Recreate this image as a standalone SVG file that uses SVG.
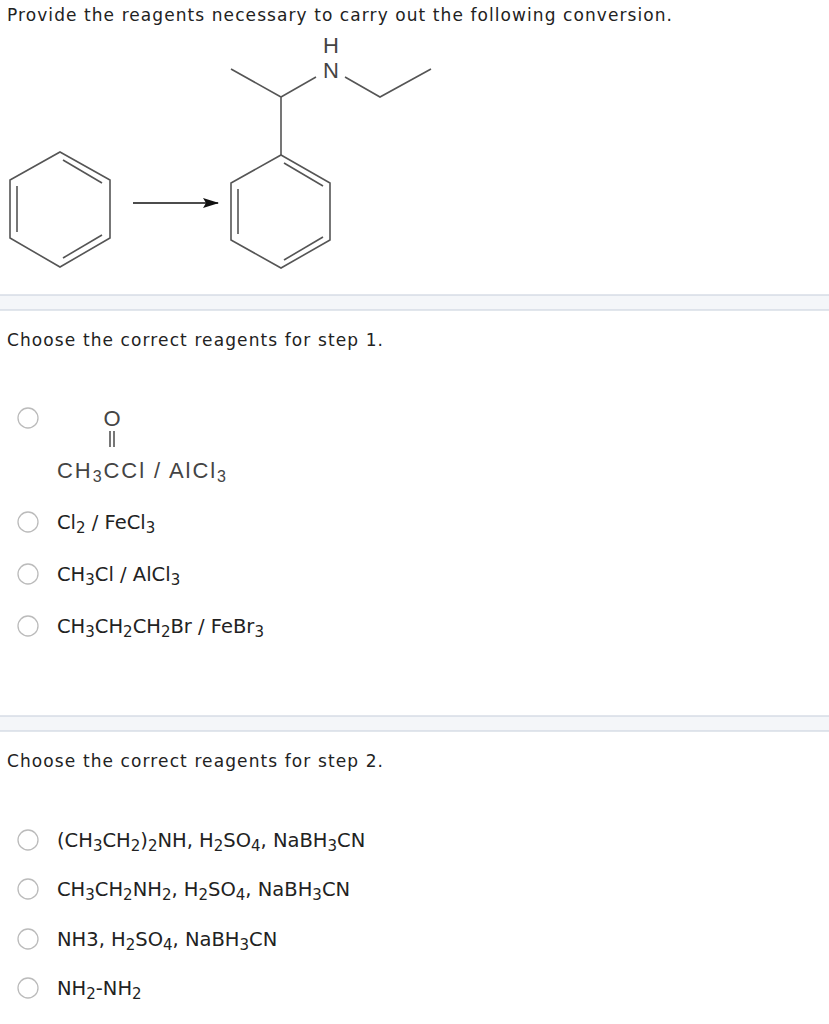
<svg xmlns="http://www.w3.org/2000/svg" width="829" height="1024" viewBox="0 0 829 1024">
<style>
.t{font-family:"DejaVu Sans",Verdana,sans-serif;font-size:17px;fill:#222}
.o{font-family:"DejaVu Sans",Verdana,sans-serif;font-size:19.5px;fill:#222}
.a{font-family:"Liberation Sans",Arial,sans-serif;font-size:22px;fill:#444}
.b{stroke:#555;stroke-width:1.6;fill:none}
.r{fill:#fff;stroke:#bbb;stroke-width:1.3}
.band{fill:#f4f6f9;stroke:#cdd5e0;stroke-width:1.2}
</style>
<defs><marker id="ah" markerWidth="16" markerHeight="10" refX="15" refY="5" orient="auto" markerUnits="userSpaceOnUse"><path d="M0,0 L16,5 L0,10 L3,5 Z" fill="#111"/></marker></defs>
<rect width="829" height="1024" fill="#fff"/>
<text class="t" x="7" y="21" textLength="665">Provide the reagents necessary to carry out the following conversion.</text>
<g id="reactant">
<polygon class="b" points="60,152 110,180 110,238 60,267 10,238 10,180"/>
<line class="b" x1="63" y1="160" x2="102" y2="183"/>
<line class="b" x1="102" y1="235" x2="63" y2="258"/>
<line class="b" x1="17" y1="186" x2="17" y2="232"/>
</g>
<g id="connectors"><line x1="133" y1="203" x2="218" y2="203" stroke="#111" stroke-width="1.6" marker-end="url(#ah)"/></g>
<g id="product">
<polygon class="b" points="281,155 330,183 330,240 281,268 231,240 231,183"/>
<line class="b" x1="284" y1="163" x2="323" y2="186"/>
<line class="b" x1="323" y1="237" x2="284" y2="260"/>
<line class="b" x1="238" y1="189" x2="238" y2="234"/>
<polyline class="b" points="231,69 281,97 281,155"/>
<line class="b" x1="281" y1="97" x2="316" y2="77"/>
<polyline class="b" points="345,77 380,97 431,69"/>
<text class="a" x="331" y="78" text-anchor="middle" font-size="20" fill="#333">N</text>
<text class="a" x="331" y="53" text-anchor="middle" font-size="20" fill="#333">H</text>
</g>
<rect class="band" x="-2" y="295" width="833" height="15"/>
<text class="t" x="7" y="346" textLength="376">Choose the correct reagents for step 1.</text>
<g id="s1o1"><circle class="r" cx="28" cy="418" r="10"/>
<text class="a" x="112" y="426" text-anchor="middle" font-size="21">O</text>
<line class="b" x1="110" y1="431" x2="110" y2="447" stroke-width="1.3"/><line class="b" x1="114" y1="431" x2="114" y2="447" stroke-width="1.3"/>
<text class="a" x="57" y="478" textLength="169">CH<tspan font-size="16" dy="4">3</tspan><tspan dy="-4">CCl / AlCl</tspan><tspan font-size="16" dy="4">3</tspan></text></g>
<g id="s1o2"><circle class="r" cx="28" cy="522" r="10"/><text class="o" x="57" y="529">Cl<tspan font-size="15" dy="4">2</tspan><tspan dy="-4"> / FeCl</tspan><tspan font-size="15" dy="4">3</tspan></text></g>
<g id="s1o3"><circle class="r" cx="28" cy="574" r="10"/><text class="o" x="57" y="581">CH<tspan font-size="15" dy="4">3</tspan><tspan dy="-4">Cl / AlCl</tspan><tspan font-size="15" dy="4">3</tspan></text></g>
<g id="s1o4"><circle class="r" cx="28" cy="626" r="10"/><text class="o" x="57" y="633">CH<tspan font-size="15" dy="4">3</tspan><tspan dy="-4">CH</tspan><tspan font-size="15" dy="4">2</tspan><tspan dy="-4">CH</tspan><tspan font-size="15" dy="4">2</tspan><tspan dy="-4">Br / FeBr</tspan><tspan font-size="15" dy="4">3</tspan></text></g>
<rect class="band" x="-2" y="716" width="833" height="15"/>
<text class="t" x="7" y="767" textLength="376">Choose the correct reagents for step 2.</text>
<g id="s2o1"><circle class="r" cx="28" cy="840" r="10"/><text class="o" x="57" y="847">(CH<tspan font-size="15" dy="4">3</tspan><tspan dy="-4">CH</tspan><tspan font-size="15" dy="4">2</tspan><tspan dy="-4">)</tspan><tspan font-size="15" dy="4">2</tspan><tspan dy="-4">NH, H</tspan><tspan font-size="15" dy="4">2</tspan><tspan dy="-4">SO</tspan><tspan font-size="15" dy="4">4</tspan><tspan dy="-4">, NaBH</tspan><tspan font-size="15" dy="4">3</tspan><tspan dy="-4">CN</tspan></text></g>
<g id="s2o2"><circle class="r" cx="28" cy="889" r="10"/><text class="o" x="57" y="896">CH<tspan font-size="15" dy="4">3</tspan><tspan dy="-4">CH</tspan><tspan font-size="15" dy="4">2</tspan><tspan dy="-4">NH</tspan><tspan font-size="15" dy="4">2</tspan><tspan dy="-4">, H</tspan><tspan font-size="15" dy="4">2</tspan><tspan dy="-4">SO</tspan><tspan font-size="15" dy="4">4</tspan><tspan dy="-4">, NaBH</tspan><tspan font-size="15" dy="4">3</tspan><tspan dy="-4">CN</tspan></text></g>
<g id="s2o3"><circle class="r" cx="28" cy="939" r="10"/><text class="o" x="57" y="946">NH3, H<tspan font-size="15" dy="4">2</tspan><tspan dy="-4">SO</tspan><tspan font-size="15" dy="4">4</tspan><tspan dy="-4">, NaBH</tspan><tspan font-size="15" dy="4">3</tspan><tspan dy="-4">CN</tspan></text></g>
<g id="s2o4"><circle class="r" cx="28" cy="988" r="10"/><text class="o" x="57" y="995">NH<tspan font-size="15" dy="4">2</tspan><tspan dy="-4">-NH</tspan><tspan font-size="15" dy="4">2</tspan></text></g>
</svg>
